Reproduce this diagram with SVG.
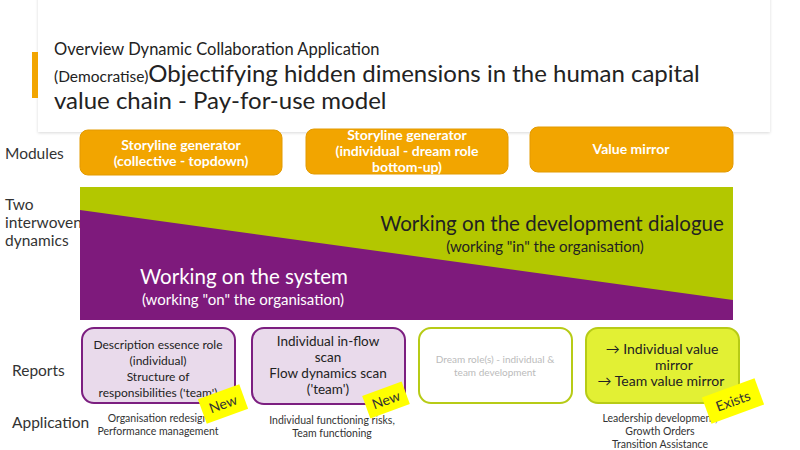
<svg xmlns="http://www.w3.org/2000/svg" width="800" height="450" viewBox="0 0 800 450">
<defs>
<filter id="sh" x="-5%" y="-5%" width="110%" height="120%"><feDropShadow dx="0" dy="1" stdDeviation="1.5" flood-color="#000" flood-opacity="0.15"/></filter>
<style>
text{font-family:Lato,"Open Sans","Liberation Sans",sans-serif;fill:#222}
.lbl{font-size:15.5px;fill:#333}
.mod{fill:#F2A500;stroke:#E39A00;stroke-width:1}
.mt{font-size:14px;font-weight:bold;fill:#fff;text-anchor:middle}
.rp{fill:#E9DAEB;stroke:#7C1F80;stroke-width:2}
.rg{fill:#fff;stroke:#B7CB16;stroke-width:2}
.ry{fill:#E2F034;stroke:#B7CB16;stroke-width:2}
.rt{font-size:13.5px;text-anchor:middle;fill:#222}
.at{font-size:10.5px;text-anchor:middle;fill:#333}
.stk{fill:#FFFF00}
.st{font-size:14px;fill:#333;text-anchor:middle}
.bt{font-size:20.5px;text-anchor:middle}
.bs{font-size:15px;text-anchor:middle}
</style>
</defs>
<rect width="800" height="450" fill="#fff"/>
<g id="title">
<rect x="38" y="-4" width="732" height="136" fill="#fff" filter="url(#sh)"/>
<rect x="32" y="52" width="6" height="46" fill="#F2A500"/>
<text x="54" y="55" style="font-size:16.5px">Overview Dynamic Collaboration Application</text>
<text x="54" y="82" style="font-size:15.5px">(Democratise)<tspan style="font-size:24px">Objectifying hidden dimensions in the human capital</tspan></text>
<text x="54" y="109" style="font-size:24px">value chain - Pay-for-use model</text>
</g>
<g id="row-labels">
<text class="lbl" x="5" y="159">Modules</text>
<text class="lbl" x="5" y="210">Two</text>
<text class="lbl" x="5" y="228">interwoven</text>
<text class="lbl" x="5" y="246">dynamics</text>
<text class="lbl" x="12" y="376">Reports</text>
<text class="lbl" x="12" y="428">Application</text>
</g>
<g id="module-1">
<rect class="mod" x="80" y="130" width="202" height="45" rx="8"/>
<text class="mt" x="181" y="150">Storyline  generator</text>
<text class="mt" x="181" y="166">(collective - topdown)</text>
</g>
<g id="module-2">
<rect class="mod" x="306" y="129" width="202" height="45" rx="8"/>
<text class="mt" x="407" y="140">Storyline  generator</text>
<text class="mt" x="407" y="156">(individual - dream role</text>
<text class="mt" x="407" y="172">bottom-up)</text>
</g>
<g id="module-3">
<rect class="mod" x="530" y="127" width="203" height="45" rx="8"/>
<text class="mt" x="631" y="154">Value mirror</text>
</g>
<g id="dynamics">
<rect x="80" y="187" width="653" height="133" fill="#B3C700"/>
<polygon points="80,210 733,300 733,320 80,320" fill="#7E1A7C"/>
<text class="bt" x="552" y="231">Working on the development dialogue</text>
<text class="bs" x="545" y="252">(working "in" the organisation)</text>
<text class="bt" x="244" y="284" style="fill:#fff">Working on the system</text>
<text class="bs" x="243" y="305" style="fill:#fff">(working "on" the organisation)</text>
</g>
<g id="report-1">
<rect class="rp" x="82" y="328" width="153" height="75" rx="12"/>
<text class="rt" x="158" y="349" style="font-size:12px">Description essence role</text>
<text class="rt" x="158" y="365" style="font-size:12px">(individual)</text>
<text class="rt" x="158" y="381" style="font-size:12px">Structure of</text>
<text class="rt" x="158" y="397" style="font-size:12px">responsibilities ('team')</text>
</g>
<g id="report-2">
<rect class="rp" x="252" y="328" width="153" height="76" rx="12"/>
<text class="rt" x="328" y="346">Individual  in-flow</text>
<text class="rt" x="328" y="362">scan</text>
<text class="rt" x="328" y="378">Flow dynamics scan</text>
<text class="rt" x="328" y="394">('team')</text>
</g>
<g id="report-3">
<rect class="rg" x="419" y="328" width="153" height="75" rx="12"/>
<text class="rt" x="495" y="363" style="font-size:10px;fill:#BBB">Dream role(s) - individual &amp;</text>
<text class="rt" x="495" y="376" style="font-size:10px;fill:#BBB">team development</text>
</g>
<g id="report-4">
<rect class="ry" x="586" y="328" width="153" height="75" rx="12"/>
<text class="rt" x="662" y="354" style="font-size:14px">→ Individual  value</text>
<text class="rt" x="674" y="370" style="font-size:14px">mirror</text>
<text class="rt" x="661" y="386" style="font-size:14px">→ Team value mirror</text>
</g>
<g id="applications">
<text class="at" x="158" y="422">Organisation redesign</text>
<text class="at" x="158" y="435">Performance management</text>
<text class="at" x="332" y="424">Individual functioning risks,</text>
<text class="at" x="332" y="437">Team functioning</text>
<text class="at" x="660" y="422">Leadership development,</text>
<text class="at" x="660" y="435">Growth Orders</text>
<text class="at" x="660" y="448">Transition Assistance</text>
</g>
<g id="sticker-new-1" transform="translate(223,404) rotate(-20)">
<rect class="stk" x="-22" y="-13" width="44" height="26"/>
<text class="st" x="0" y="5">New</text>
</g>
<g id="sticker-new-2" transform="translate(386,400) rotate(-20)">
<rect class="stk" x="-21" y="-12" width="42" height="24"/>
<text class="st" x="0" y="5">New</text>
</g>
<g id="sticker-exists" transform="translate(733,401) rotate(-20)">
<rect class="stk" x="-28" y="-14" width="56" height="28"/>
<text class="st" x="0" y="5">Exists</text>
</g>
</svg>
